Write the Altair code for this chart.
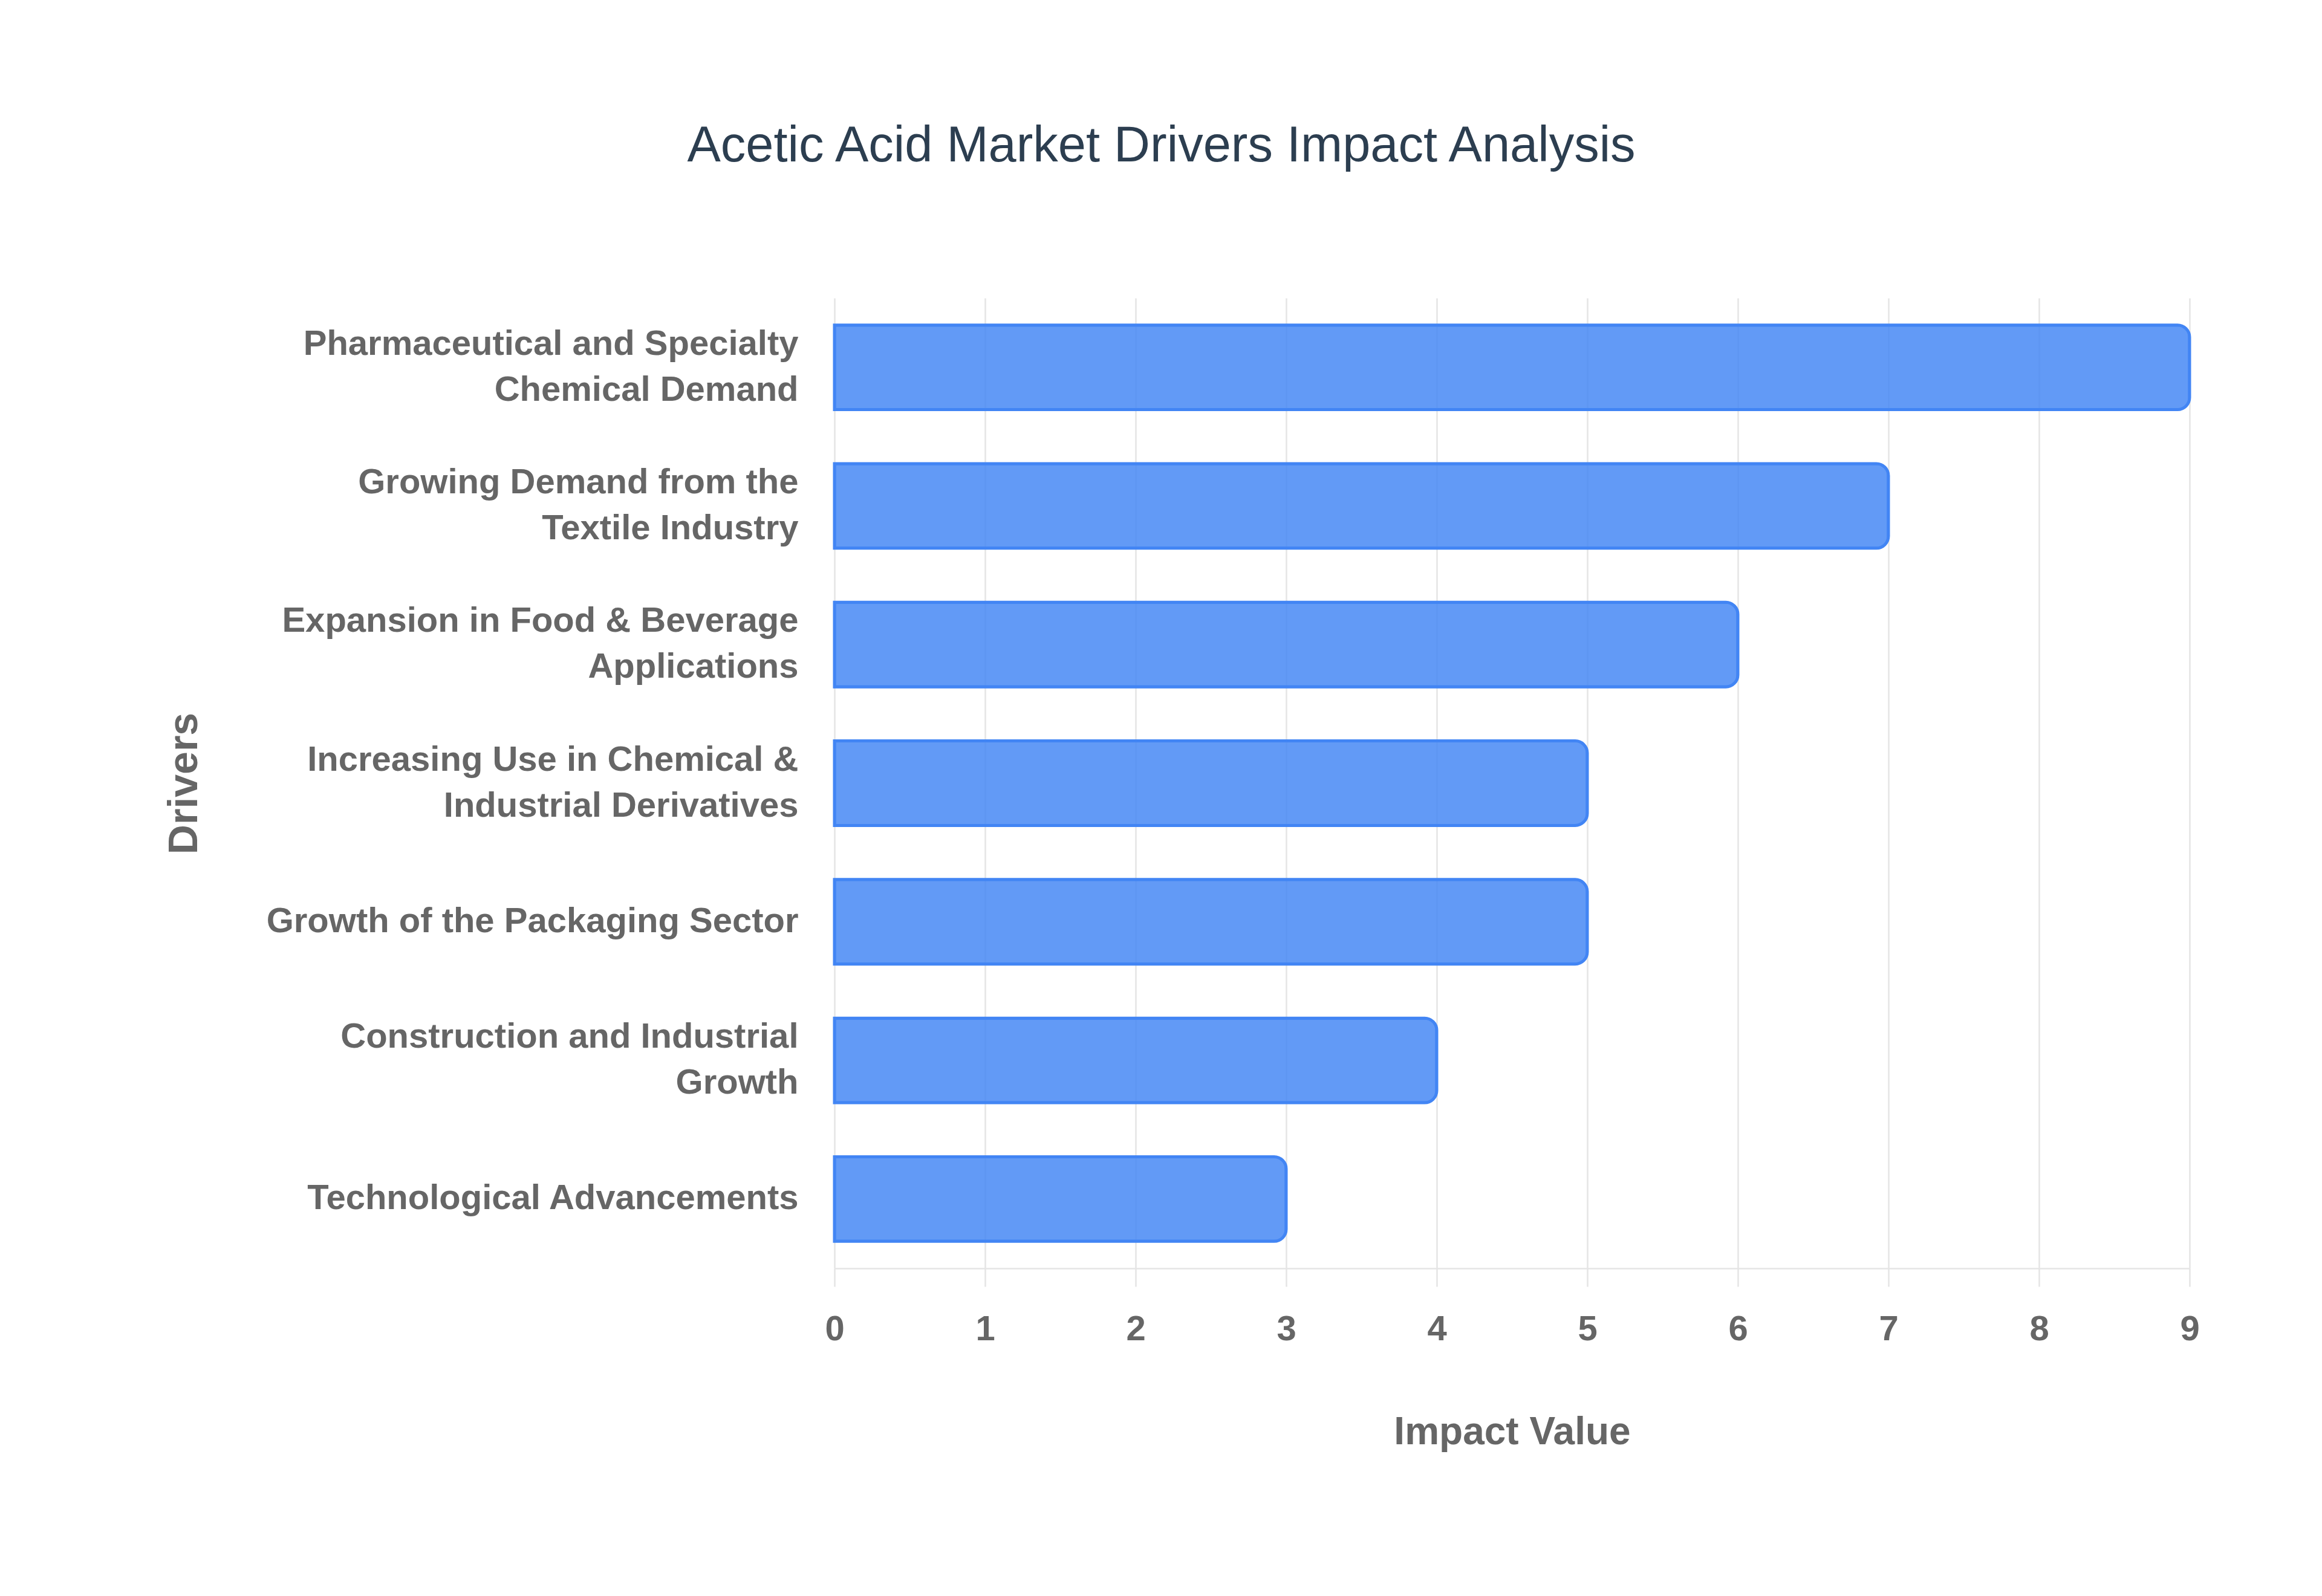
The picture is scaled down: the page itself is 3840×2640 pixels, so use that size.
"""Acetic acid market drivers - horizontal bar chart."""

import pandas as pd
import altair as alt

# categories, top to bottom ("|" marks the line break of the tick label)
drivers = [
    "Pharmaceutical and Specialty|Chemical Demand",
    "Growing Demand from the|Textile Industry",
    "Expansion in Food & Beverage|Applications",
    "Increasing Use in Chemical &|Industrial Derivatives",
    "Growth of the Packaging Sector",
    "Construction and Industrial|Growth",
    "Technological Advancements",
]
impact = [9, 7, 6, 5, 5, 4, 3]
x_ticks = [0, 1, 2, 3, 4, 5, 6, 7, 8, 9]

df = pd.DataFrame({"driver": drivers, "impact": impact})

FONT = "Liberation Sans"
GRID = "#E5E5E5"
LABEL = "#666666"

chart = (
    alt.Chart(
        df,
        title=alt.Title(
            "Acetic Acid Market Drivers Impact Analysis",
            font=FONT,
            fontSize=83,
            fontWeight="normal",
            color="#2C3E50",
            anchor="middle",
            frame="group",
            baseline="alphabetic",
            dx=-580,
            offset=143,
        ),
    )
    .mark_bar(
        color="#4285F4",
        fillOpacity=0.83,
        stroke="#4285F4",
        strokeWidth=5,
        cornerRadiusEnd=20,
    )
    .encode(
        alt.X(
            "impact:Q",
            scale=alt.Scale(domain=[0, 9], nice=False),
            axis=alt.Axis(
                values=x_ticks,
                title="Impact Value",
                grid=True,
                gridColor=GRID,
                gridWidth=2.5,
                domainColor=GRID,
                domainWidth=2.5,
                tickSize=30,
                tickColor=GRID,
                tickWidth=2.5,
                labelFont=FONT,
                labelFontSize=58,
                labelFontWeight="bold",
                labelColor=LABEL,
                labelPadding=42,
                labelFlush=False,
                titleFont=FONT,
                titleFontSize=64,
                titleFontWeight="bold",
                titleColor=LABEL,
                titleX=1120.5,
                titleY=290,
                titleBaseline="alphabetic",
            ),
        ),
        alt.Y(
            "driver:N",
            sort=None,
            scale=alt.Scale(paddingInner=0.39, paddingOuter=0.195),
            axis=alt.Axis(
                title="Drivers",
                labelExpr="split(datum.label, '|')",
                labelLineHeight=76,
                labelOffset=alt.condition("indexof(datum.value, '|') >= 0", alt.value(-38), alt.value(0)),
                labelFont=FONT,
                labelFontSize=58,
                labelFontWeight="bold",
                labelColor=LABEL,
                labelPadding=60,
                labelLimit=3000,
                ticks=False,
                domain=False,
                grid=False,
                titleFont=FONT,
                titleFontSize=68,
                titleFontWeight="bold",
                titleColor=LABEL,
                titleX=-1055,
                titleY=802.5,
                titleAngle=270,
                titleAlign="center",
                titleBaseline="alphabetic",
            ),
        ),
        tooltip=["driver", "impact"],
    )
    .properties(
        width=2241,
        height=1605,
        autosize=alt.AutoSizeParams(type="none"),
        padding={"left": 1372, "top": 485, "right": 211, "bottom": 534},
        background="white",
    )
    .configure_view(stroke=None)
)

chart.save("out.html", embed_options={"renderer": "svg", "actions": False})
